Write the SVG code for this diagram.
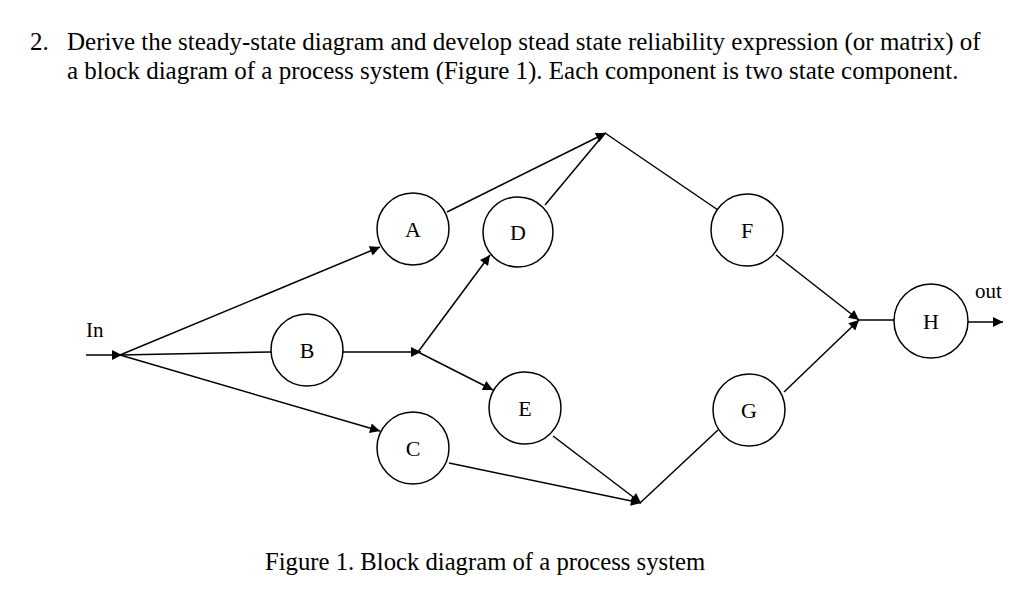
<svg xmlns="http://www.w3.org/2000/svg" width="1024" height="596" viewBox="0 0 1024 596">
<style>
text{font-family:"Liberation Serif",serif;fill:#000}
.t{font-size:25px}
.n{font-size:22px;text-anchor:middle}
circle{fill:#fff;stroke:#000;stroke-width:1.5}
line{stroke:#000;stroke-width:1.5}
</style>
<defs><marker id="a" viewBox="0 0 10 10" refX="10" refY="5" markerWidth="12" markerHeight="10" orient="auto" markerUnits="userSpaceOnUse"><path d="M0,0L10,5L0,10z" fill="#000"/></marker></defs>
<rect width="1024" height="596" fill="#fff"/>
<text class="t" x="30" y="50">2.</text>
<text class="t" x="67" y="50">Derive the steady-state diagram and develop stead state reliability expression (or matrix) of</text>
<text class="t" x="67" y="79">a block diagram of a process system (Figure 1). Each component is two state component.</text>
<text x="86" y="337" style="font-size:21px">In</text>
<text x="975" y="298" style="font-size:21px">out</text>
<text x="265" y="570" style="font-size:24.7px">Figure 1. Block diagram of a process system</text>
<g id="connectors">
<line x1="86" y1="355" x2="122" y2="355" marker-end="url(#a)"/>
<line x1="120" y1="355" x2="380" y2="247" marker-end="url(#a)"/>
<line x1="120" y1="355" x2="271" y2="352"/>
<line x1="120" y1="355" x2="380" y2="431" marker-end="url(#a)"/>
<line x1="343" y1="352" x2="421" y2="352" marker-end="url(#a)"/>
<line x1="418" y1="352" x2="490" y2="255" marker-end="url(#a)"/>
<line x1="418" y1="352" x2="493" y2="390" marker-end="url(#a)"/>
<line x1="447" y1="212" x2="606" y2="133" marker-end="url(#a)"/>
<line x1="545" y1="205" x2="605" y2="133"/>
<line x1="605" y1="133" x2="718" y2="210"/>
<line x1="776" y1="255" x2="859" y2="320" marker-end="url(#a)"/>
<line x1="784" y1="392" x2="859" y2="320" marker-end="url(#a)"/>
<line x1="858" y1="320" x2="895" y2="320"/>
<line x1="968" y1="322" x2="1003" y2="322" marker-end="url(#a)"/>
<line x1="449" y1="463" x2="641" y2="503" marker-end="url(#a)"/>
<line x1="553" y1="436" x2="641" y2="503" marker-end="url(#a)"/>
<line x1="640" y1="503" x2="718" y2="430"/>
</g>
<g id="A"><circle cx="413" cy="229" r="36"/><text class="n" x="413" y="237">A</text></g>
<g id="D"><circle cx="518" cy="232" r="35"/><text class="n" x="518" y="240">D</text></g>
<g id="F"><circle cx="747" cy="230" r="36"/><text class="n" x="747" y="238">F</text></g>
<g id="B"><circle cx="307" cy="350" r="36"/><text class="n" x="307" y="358">B</text></g>
<g id="E"><circle cx="525" cy="408" r="36"/><text class="n" x="525" y="416">E</text></g>
<g id="G"><circle cx="749" cy="410" r="36"/><text class="n" x="749" y="418">G</text></g>
<g id="C"><circle cx="413" cy="448" r="36"/><text class="n" x="413" y="456">C</text></g>
<g id="H"><circle cx="931" cy="321" r="37"/><text class="n" x="931" y="329">H</text></g>
</svg>
